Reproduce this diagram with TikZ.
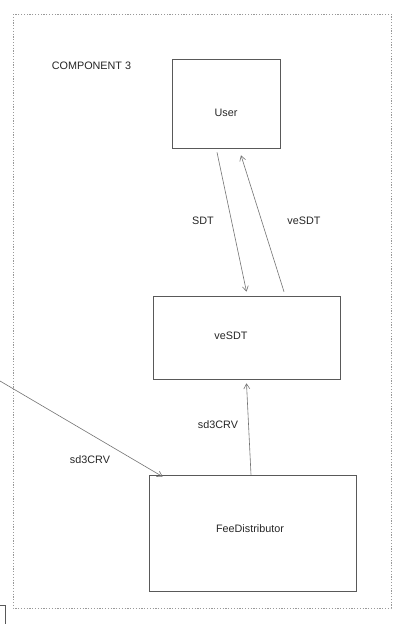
\documentclass[tikz,border=0pt]{standalone}
\usepackage{fontspec}
\setmainfont{Liberation Sans}
\usetikzlibrary{arrows.meta}
\tikzset{
  box/.style={draw=black!65, line width=0.6pt, inner sep=0pt},
  lbl/.style={font=\fontsize{10.8}{13}\selectfont, text=black!85, inner sep=1pt},
  flow/.style={draw=black!55, line width=0.6pt, -{Straight Barb[length=5pt,width=6pt]}},
  frame/.style={draw=black!40, line width=0.6pt, dash pattern=on 1.2pt off 1.6pt}
}
\begin{document}
\begin{tikzpicture}
    \useasboundingbox (0pt,0pt) rectangle (411pt,-624pt);
    \fill[white] (0pt,0pt) rectangle (411pt,-624pt);
    \draw[frame] (13pt,-14pt) rectangle (391pt,-608pt);
    \draw[box] (0pt,-605pt) -- (5pt,-605pt) -- (5pt,-624pt);
    \node[lbl] (comp) at (91.5pt,-66pt) {COMPONENT 3};
    \node[box, minimum width=108pt, minimum height=89pt] (user) at (226pt,-103.5pt) {};
    \node[lbl] (usertxt) at (226pt,-113pt) {User};
    \node[box, minimum width=187pt, minimum height=83pt] (vesdt) at (246.5pt,-337.5pt) {};
    \node[lbl] (vesdttxt) at (231pt,-336pt) {veSDT};
    \node[box, minimum width=207pt, minimum height=116pt] (fee) at (252.5pt,-533pt) {};
    \node[lbl] (feetxt) at (250pt,-529pt) {FeeDistributor};
    \coordinate (lft) at (0pt,-381pt);
    \draw[flow] ([xshift=-9pt,yshift=-4pt]user.south) -- ([yshift=4pt]vesdt.north);
    \draw[flow] ([xshift=37.5pt,yshift=4pt]vesdt.north) -- ([xshift=15pt,yshift=-7pt]user.south);
    \draw[flow] ([xshift=-1.5pt]fee.north) -- ([yshift=-4pt]vesdt.south);
    \draw[flow] (lft) -- ([xshift=14pt,yshift=-2pt]fee.north west);
    \node[lbl] (sdt) at (203pt,-221pt) {SDT};
    \node[lbl] (vesdtlbl) at (304pt,-221pt) {veSDT};
    \node[lbl] (crvup) at (218pt,-425pt) {sd3CRV};
    \node[lbl] (crvleft) at (90pt,-460pt) {sd3CRV};
\end{tikzpicture}
\end{document}
